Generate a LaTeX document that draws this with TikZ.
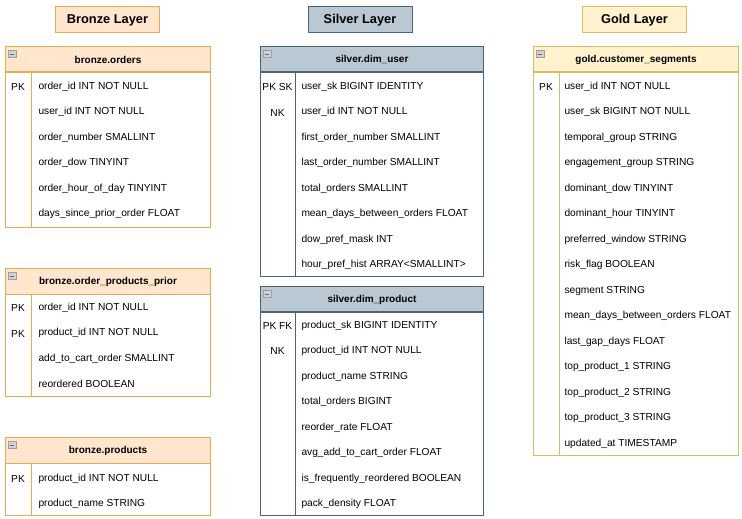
\documentclass[tikz,border=0pt]{standalone}
\usepackage{fontspec}
\setmainfont{Liberation Sans}

\definecolor{bronzefill}{HTML}{FFE6CC}
\definecolor{bronzeline}{HTML}{E5AC55}
\definecolor{silverfill}{HTML}{BAC8D3}
\definecolor{silverline}{HTML}{4A6478}
\definecolor{goldfill}{HTML}{FFF2CC}
\definecolor{goldline}{HTML}{D9BC68}

\begin{document}
\begin{tikzpicture}[x=1pt,y=-1pt,line width=1pt,
  title/.style={draw,minimum width=104pt,minimum height=26pt,inner sep=0pt,font=\fontsize{12.8}{14}\selectfont\bfseries},
  head/.style={draw,anchor=north west,minimum height=26pt,inner sep=0pt,font=\fontsize{10}{12}\selectfont\bfseries},
  row/.style={anchor=west,inner sep=0pt,yshift=-1.5pt,font=\fontsize{10.2}{12}\selectfont},
  key/.style={inner sep=0pt,yshift=-1.5pt,font=\fontsize{10.2}{12}\selectfont},
  icon/.style={draw=gray!75,fill=gray!35,minimum width=8pt,minimum height=7pt,inner sep=0pt,line width=0.6pt,
    path picture={\draw[gray!80!black,line width=0.9pt] ([xshift=1.8pt]path picture bounding box.west) -- ([xshift=-1.8pt]path picture bounding box.east);}},
  bronze/.style={draw=bronzeline},
  silver/.style={draw=silverline},
  gold/.style={draw=goldline}]

  \useasboundingbox (0,0) rectangle (742,519);

  % layer titles
  \node[title,bronze,fill=bronzefill] (bronzetitle) at (107.5,20) {\raisebox{-1.2pt}{Bronze Layer}};
  \node[title,silver,fill=silverfill] (silvertitle) at (360,20) {\raisebox{-1.2pt}{Silver Layer}};
  \node[title,gold,fill=goldfill] (goldtitle) at (634.5,20) {\raisebox{-1.2pt}{Gold Layer}};

  % bronze.orders
  \node[head,bronze,fill=bronzefill,minimum width=205pt] (ordhead) at (5,46) {bronze.orders};
  \node[icon] (ordicon) at ([shift={(7,8)}]ordhead.north west) {};
  \draw[bronze] (5,72) rectangle (210,227);
  \draw[bronze] (31,72) -- (31,227);
  \node[key] (ordpk) at (18,85) {PK};
  \foreach \t [count=\i from 0] in {order\_id INT NOT NULL, user\_id INT NOT NULL, order\_number SMALLINT,
    order\_dow TINYINT, order\_hour\_of\_day TINYINT, days\_since\_prior\_order FLOAT}
    \node[row] (ord\i) at (38,85+25.5*\i) {\t};

  % bronze.order_products_prior
  \node[head,bronze,fill=bronzefill,minimum width=205pt] (ophead) at (5,268) {bronze.order\_products\_prior};
  \node[icon] (opicon) at ([shift={(7,8)}]ophead.north west) {};
  \draw[bronze] (5,294) rectangle (210,396);
  \draw[bronze] (31,294) -- (31,396);
  \node[key] (oppk1) at (18,306) {PK};
  \node[key] (oppk2) at (18,332) {PK};
  \foreach \t [count=\i from 0] in {order\_id INT NOT NULL, product\_id INT NOT NULL,
    add\_to\_cart\_order SMALLINT, reordered BOOLEAN}
    \node[row] (op\i) at (38,306+25.5*\i) {\t};

  % bronze.products
  \node[head,bronze,fill=bronzefill,minimum width=205pt] (prodhead) at (5,437) {bronze.products};
  \node[icon] (prodicon) at ([shift={(7,8)}]prodhead.north west) {};
  \draw[bronze] (5,463) rectangle (210,515);
  \draw[bronze] (31,463) -- (31,515);
  \node[key] (prodpk) at (18,477) {PK};
  \foreach \t [count=\i from 0] in {product\_id INT NOT NULL, product\_name STRING}
    \node[row] (prod\i) at (38,477+25.5*\i) {\t};

  % silver.dim_user
  \node[head,silver,fill=silverfill,minimum width=223pt] (userhead) at (260,46) {silver.dim\_user};
  \node[icon] (usericon) at ([shift={(7,8)}]userhead.north west) {};
  \draw[silver] (260,72) rectangle (483,276);
  \draw[silver] (295,72) -- (295,276);
  \node[key] (userpk) at (277.5,85) {PK SK};
  \node[key] (usernk) at (277.5,111) {NK};
  \foreach \t [count=\i from 0] in {user\_sk BIGINT IDENTITY, user\_id INT NOT NULL,
    first\_order\_number SMALLINT, last\_order\_number SMALLINT, total\_orders SMALLINT,
    mean\_days\_between\_orders FLOAT, dow\_pref\_mask INT, hour\_pref\_hist ARRAY<SMALLINT>}
    \node[row] (user\i) at (301,85+25.5*\i) {\t};

  % silver.dim_product
  \node[head,silver,fill=silverfill,minimum width=223pt] (dprodhead) at (260,286) {silver.dim\_product};
  \node[icon] (dprodicon) at ([shift={(7,8)}]dprodhead.north west) {};
  \draw[silver] (260,311) rectangle (483,515);
  \draw[silver] (295,311) -- (295,515);
  \node[key] (dprodpk) at (277.5,324) {PK FK};
  \node[key] (dprodnk) at (277.5,349.5) {NK};
  \foreach \t [count=\i from 0] in {product\_sk BIGINT IDENTITY, product\_id INT NOT NULL,
    product\_name STRING, total\_orders BIGINT, reorder\_rate FLOAT,
    avg\_add\_to\_cart\_order FLOAT, is\_frequently\_reordered BOOLEAN, pack\_density FLOAT}
    \node[row] (dprod\i) at (301,324+25.5*\i) {\t};

  % gold.customer_segments
  \node[head,gold,fill=goldfill,minimum width=205pt] (seghead) at (533,46) {gold.customer\_segments};
  \node[icon] (segicon) at ([shift={(7,8)}]seghead.north west) {};
  \draw[gold] (533,72) rectangle (738,455);
  \draw[gold] (559,72) -- (559,455);
  \node[key] (segpk) at (546,85) {PK};
  \foreach \t [count=\i from 0] in {user\_id INT NOT NULL, user\_sk BIGINT NOT NULL,
    temporal\_group STRING, engagement\_group STRING, dominant\_dow TINYINT,
    dominant\_hour TINYINT, preferred\_window STRING, risk\_flag BOOLEAN, segment STRING,
    mean\_days\_between\_orders FLOAT, last\_gap\_days FLOAT, top\_product\_1 STRING,
    top\_product\_2 STRING, top\_product\_3 STRING, updated\_at TIMESTAMP}
    \node[row] (seg\i) at (564,85+25.5*\i) {\t};

\end{tikzpicture}
\end{document}
